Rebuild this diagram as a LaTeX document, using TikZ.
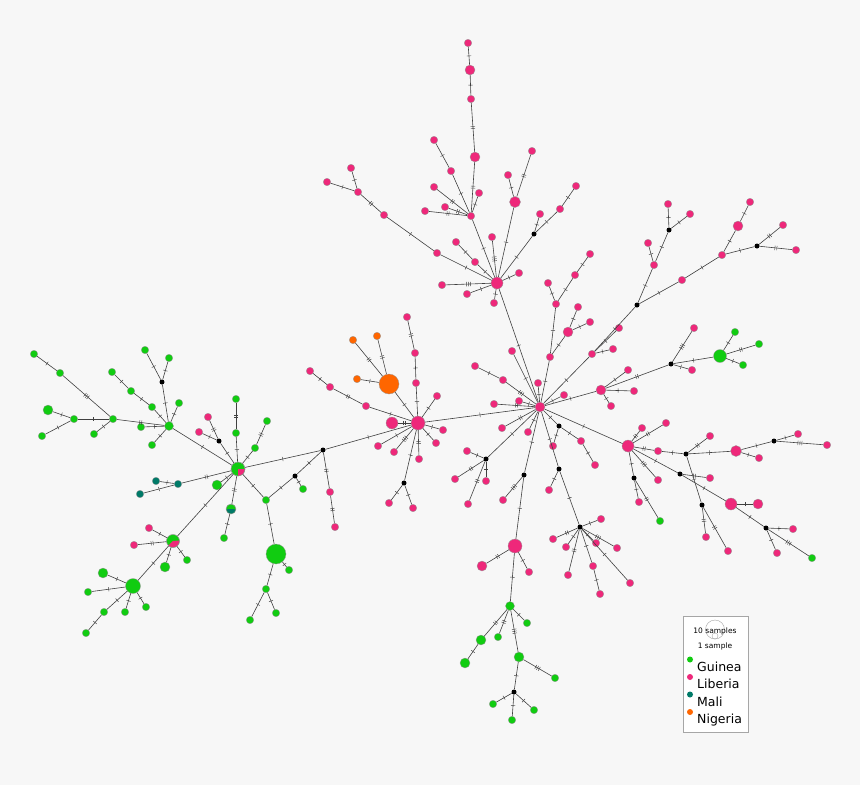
\documentclass[tikz,border=0pt]{standalone}
\usepackage{fontspec}
\newfontfamily\legfont{DejaVu Sans}
\usetikzlibrary{decorations.markings}
\definecolor{pinkc}{RGB}{238,40,122}
\definecolor{greenc}{RGB}{17,204,17}
\definecolor{tealc}{RGB}{0,122,104}
\definecolor{orangec}{RGB}{255,102,0}
\definecolor{bgc}{RGB}{247,247,247}
\begin{document}
\begin{tikzpicture}[x=1pt,y=-1pt,
  nd/.style={circle,inner sep=0pt,draw=black!40,line width=0.3pt},
  pk/.style={nd,fill=pinkc,minimum size=#1}, pk/.default=7.5pt,
  gn/.style={nd,fill=greenc,minimum size=#1}, gn/.default=7.5pt,
  tl/.style={nd,fill=tealc,minimum size=#1}, tl/.default=7.5pt,
  og/.style={nd,fill=orangec,minimum size=#1}, og/.default=7.5pt,
  bk/.style={circle,inner sep=0pt,fill=black,minimum size=5pt},
  lnk/.style={draw=black!75,line width=0.6pt,postaction={decorate},
    decoration={markings,mark=at position 0.5 with {\draw[line width=0.45pt] (0,-2.2pt) -- (0,2.2pt);}}},
  tk2/.style={decoration={markings,reset marks,mark=at position 0.5 with {\draw[line width=0.45pt] (-1pt,-2.2pt) -- (-1pt,2.2pt) (1pt,-2.2pt) -- (1pt,2.2pt);}}},
  tk3/.style={decoration={markings,reset marks,mark=at position 0.5 with {\draw[line width=0.45pt] (-2pt,-2.2pt) -- (-2pt,2.2pt) (0,-2.2pt) -- (0,2.2pt) (2pt,-2.2pt) -- (2pt,2.2pt);}}},
  every edge/.style={lnk},
  leg/.style={font=\legfont\fontsize{12.5}{14}\selectfont,anchor=base west,inner sep=0pt},
  legsmall/.style={font=\legfont\fontsize{7.5}{9}\selectfont,inner sep=0pt}]
\path[use as bounding box,fill=bgc] (0,0) rectangle (860,785);

\node[pk=12pt] (T) at (497,283) {};
\node[pk] (t1) at (468,43) {};
\node[pk=10pt] (t2) at (470,70) {};
\node[pk] (t3) at (471,99) {};
\node[pk=10pt] (t4) at (475,157) {};
\node[pk] (t5) at (471,216) {};
\node[pk] (t6) at (451,171) {};
\node[pk] (t7) at (434,140) {};
\node[pk] (t8) at (434,187) {};
\node[pk] (t9) at (445,207) {};
\node[pk] (t10) at (425,211) {};
\node[pk] (t11) at (479,193) {};
\node[pk=11pt] (t12) at (515,202) {};
\node[pk] (t13) at (508,175) {};
\node[pk] (t14) at (532,151) {};
\node[bk] (tb) at (534,234) {};
\node[pk] (t15) at (540,214) {};
\node[pk] (t16) at (560,209) {};
\node[pk] (t17) at (576,186) {};
\node[pk] (t18) at (437,253) {};
\node[pk] (t19) at (384,215) {};
\node[pk] (t20) at (358,192) {};
\node[pk] (t21) at (351,168) {};
\node[pk] (t22) at (327,182) {};
\node[pk] (t23) at (456,242) {};
\node[pk] (t24) at (475,262) {};
\node[pk] (t25) at (492,237) {};
\node[pk] (t26) at (519,273) {};
\node[pk] (t27) at (442,285) {};
\node[pk] (t28) at (467,294) {};
\node[pk] (t29) at (494,303) {};

\node[pk=10pt] (C) at (540,407) {};
\node[pk] (u1) at (550,357) {};
\node[pk] (u2) at (556,304) {};
\node[pk] (u3) at (548,283) {};
\node[pk] (u4) at (575,275) {};
\node[pk] (u5) at (590,254) {};
\node[pk=10pt] (u6) at (568,332) {};
\node[pk] (u7) at (578,307) {};
\node[pk] (u8) at (590,322) {};
\node[pk] (c1) at (512,351) {};
\node[pk] (c2) at (503,380) {};
\node[pk] (c3) at (475,366) {};
\node[pk] (c4) at (538,383) {};
\node[pk] (c5) at (494,404) {};
\node[pk] (c6) at (519,401) {};
\node[pk] (c7) at (502,428) {};
\node[pk] (c8) at (528,432) {};
\node[bk] (cb1) at (559,426) {};
\node[pk] (c9) at (553,446) {};
\node[pk] (c10) at (581,441) {};
\node[pk] (c11) at (595,465) {};
\node[bk] (cb2) at (559,469) {};
\node[pk] (c12) at (549,490) {};
\node[bk] (cb3) at (524,475) {};
\node[pk] (c13) at (503,500) {};
\node[bk] (cb4) at (486,459) {};
\node[pk] (c14) at (467,451) {};
\node[pk] (c15) at (455,479) {};
\node[pk] (c16) at (486,481) {};
\node[pk] (c17) at (468,504) {};
\node[pk] (c18) at (564,395) {};

\node[pk=14pt] (D) at (515,546) {};
\node[pk=10pt] (d1) at (482,566) {};
\node[pk] (d2) at (529,572) {};
\node[gn=9pt] (d3) at (510,606) {};
\node[gn] (d4) at (527,623) {};
\node[gn] (d5) at (498,637) {};
\node[gn=10pt] (d6) at (481,640) {};
\node[gn=10pt] (d7) at (465,663) {};
\node[gn=10pt] (d8) at (519,657) {};
\node[gn] (d9) at (555,678) {};
\node[bk] (db) at (514,692) {};
\node[gn] (d10) at (493,704) {};
\node[gn] (d11) at (534,710) {};
\node[gn] (d12) at (512,720) {};

\node[bk] (eb) at (580,527) {};
\node[pk] (e1) at (601,519) {};
\node[pk] (e2) at (553,539) {};
\node[pk] (e3) at (566,547) {};
\node[pk] (e4) at (596,543) {};
\node[pk] (e5) at (617,548) {};
\node[pk] (e6) at (593,566) {};
\node[pk] (e7) at (600,594) {};
\node[pk] (e8) at (568,575) {};
\node[pk] (e9) at (630,583) {};

\node[pk] (r1) at (592,354) {};
\node[pk] (r2) at (613,349) {};
\node[pk] (r3) at (619,328) {};
\node[bk] (rb1) at (637,305) {};
\node[pk] (r4) at (654,265) {};
\node[pk] (r5) at (648,243) {};
\node[bk] (rb2) at (669,230) {};
\node[pk] (r6) at (668,204) {};
\node[pk] (r7) at (690,214) {};
\node[pk] (r8) at (682,280) {};
\node[pk] (r9) at (722,255) {};
\node[pk=10pt] (r10) at (738,226) {};
\node[pk] (r11) at (750,202) {};
\node[bk] (rb3) at (757,246) {};
\node[pk] (r12) at (783,225) {};
\node[pk] (r13) at (796,250) {};

\node[pk=10pt] (Q) at (601,390) {};
\node[pk] (q1) at (628,370) {};
\node[pk] (q2) at (634,391) {};
\node[pk] (q3) at (611,406) {};
\node[bk] (qb) at (671,364) {};
\node[pk] (q4) at (694,328) {};
\node[pk] (q5) at (692,370) {};
\node[gn=13pt] (QG) at (720,356) {};
\node[gn] (q6) at (735,332) {};
\node[gn] (q7) at (759,344) {};
\node[gn] (q8) at (743,365) {};

\node[pk=12pt] (W) at (628,446) {};
\node[pk] (w1) at (642,428) {};
\node[pk] (w2) at (666,423) {};
\node[pk] (w3) at (658,451) {};
\node[pk] (w4) at (658,480) {};
\node[bk] (wb1) at (634,478) {};
\node[pk] (w5) at (639,502) {};
\node[gn] (w6) at (660,521) {};
\node[bk] (wb2) at (686,454) {};
\node[pk] (w7) at (710,436) {};
\node[pk=11pt] (w8) at (736,451) {};
\node[bk] (wb3) at (774,441) {};
\node[pk] (w9) at (798,434) {};
\node[pk] (w10) at (827,445) {};
\node[pk] (w11) at (759,458) {};
\node[bk] (wb4) at (702,505) {};
\node[pk] (w12) at (706,537) {};
\node[pk] (w13) at (728,551) {};
\node[bk] (wb5) at (680,474) {};
\node[pk] (w14) at (710,478) {};
\node[pk=12pt] (w15) at (731,504) {};
\node[pk=10pt] (w16) at (758,504) {};
\node[bk] (wb6) at (766,528) {};
\node[pk] (w17) at (793,529) {};
\node[pk] (w18) at (777,553) {};
\node[gn] (w19) at (812,558) {};

\node[pk=14pt] (L) at (418,423) {};
\node[pk=12pt] (l1) at (392,423) {};
\node[og=20pt] (O) at (389,384) {};
\node[og] (o1) at (353,340) {};
\node[og] (o2) at (377,336) {};
\node[og] (o3) at (357,379) {};
\node[pk] (l2) at (366,406) {};
\node[pk] (l3) at (330,387) {};
\node[pk] (l4) at (310,371) {};
\node[pk] (l5) at (416,383) {};
\node[pk] (l6) at (415,353) {};
\node[pk] (l7) at (407,317) {};
\node[pk] (l8) at (437,396) {};
\node[pk] (l9) at (443,430) {};
\node[pk] (l10) at (436,443) {};
\node[pk] (l11) at (419,459) {};
\node[pk] (l12) at (394,452) {};
\node[pk] (l13) at (378,446) {};
\node[bk] (lb) at (404,483) {};
\node[pk] (l14) at (389,503) {};
\node[pk] (l15) at (413,508) {};

\node[bk] (kb1) at (323,450) {};
\node[bk] (kb2) at (295,476) {};
\node[gn] (k1) at (303,489) {};
\node[gn] (k2) at (266,500) {};
\node[pk] (k3) at (330,492) {};
\node[pk] (k4) at (335,527) {};
\node[gn=20pt] (K) at (276,554) {};
\node[gn] (k5) at (289,570) {};
\node[gn] (k6) at (266,589) {};
\node[gn] (k7) at (250,620) {};
\node[gn] (k8) at (276,613) {};

\node[gn=14pt] (G) at (238,469) {};
\node[gn] (g1) at (236,433) {};
\node[gn] (g2) at (236,399) {};
\node[gn] (g3) at (255,448) {};
\node[gn] (g4) at (267,421) {};
\node[bk] (gb) at (219,441) {};
\node[pk] (g5) at (208,417) {};
\node[pk] (g6) at (199,432) {};
\node[gn=10pt] (g7) at (217,485) {};
\node[gn=10pt] (g8) at (231,509) {};
\node[gn] (g9) at (224,538) {};
\node[tl] (gt1) at (178,484) {};
\node[tl] (gt2) at (156,481) {};
\node[tl] (gt3) at (140,494) {};

\node[gn=9pt] (H) at (169,426) {};
\node[gn] (h1) at (141,427) {};
\node[gn] (h2) at (113,419) {};
\node[gn] (h3) at (74,419) {};
\node[gn=10pt] (h4) at (48,410) {};
\node[gn] (h5) at (42,436) {};
\node[gn] (h6) at (94,434) {};
\node[gn] (h7) at (60,373) {};
\node[gn] (h8) at (34,354) {};
\node[gn] (h9) at (152,445) {};
\node[gn] (h10) at (152,407) {};
\node[gn] (h11) at (131,391) {};
\node[gn] (h12) at (112,372) {};
\node[bk] (hb) at (162,382) {};
\node[gn] (h13) at (145,350) {};
\node[gn] (h14) at (169,358) {};
\node[gn] (h15) at (179,403) {};

\node[gn=13pt] (P) at (173,541) {};
\node[pk] (p1) at (149,528) {};
\node[pk] (p2) at (134,545) {};
\node[gn=10pt] (p3) at (165,567) {};
\node[gn] (p4) at (187,560) {};
\node[gn=15pt] (B) at (133,586) {};
\node[gn=10pt] (b1) at (103,573) {};
\node[gn] (b2) at (88,592) {};
\node[gn] (b3) at (104,612) {};
\node[gn] (b4) at (86,633) {};
\node[gn] (b5) at (125,612) {};
\node[gn] (b6) at (146,607) {};

\fill[pinkc] (G.center) -- ++(-90:6.8pt) arc[start angle=-90,end angle=0,radius=6.8pt] -- cycle;
\draw[black!40,line width=0.3pt] (G.center) circle[radius=7pt];
\fill[pinkc] (P.center) -- ++(-137:6.3pt) arc[start angle=-137,end angle=5,radius=6.3pt] -- cycle;
\draw[black!40,line width=0.3pt] (P.center) circle[radius=6.5pt];
\fill[tealc] (g8.center) -- ++(185:4.8pt) arc[start angle=185,end angle=355,radius=4.8pt] -- cycle;
\draw[black!40,line width=0.3pt] (g8.center) circle[radius=5pt];

\path (T) edge (t5) edge (t12) edge (tb) edge (t18) edge (t24) edge[tk3] (t25) edge (t26) edge[tk3] (t27) edge (t28) edge (t29) edge (C);
\path (t5) edge[tk2] (t4) edge (t6) edge[tk2] (t8) edge[tk2] (t9) edge[tk2] (t10) edge (t11);
\path (t4) edge[tk2] (t3);
\path (t3) edge (t2);
\path (t2) edge (t1);
\path (t6) edge (t7);
\path (t12) edge (t13) edge[tk2] (t14);
\path (tb) edge (t15) edge (t16);
\path (t16) edge (t17);
\path (t18) edge (t19);
\path (t19) edge[tk2] (t20);
\path (t20) edge (t21) edge (t22);
\path (t24) edge (t23);

\path (C) edge (u1) edge (c1) edge[tk3] (c2) edge (c4) edge[tk2] (c5) edge (c6) edge[tk2] (c7) edge (c8) edge (cb1) edge (cb2) edge (cb3) edge (cb4) edge (c18) edge (r1) edge (Q) edge (W) edge (L);
\path (u1) edge (u2) edge (u6);
\path (u2) edge (u3) edge (u4);
\path (u4) edge (u5);
\path (u6) edge (u7) edge (u8);
\path (c2) edge (c3);
\path (cb1) edge (c9) edge (c10);
\path (c10) edge (c11);
\path (cb2) edge (c12) edge (eb);
\path (cb3) edge[tk3] (c13) edge (D);
\path (cb4) edge (c14) edge[tk2] (c15) edge (c16) edge[tk2] (c17);

\path (D) edge[tk2] (d1) edge (d2) edge (d3);
\path (d3) edge (d4) edge[tk2] (d5) edge[tk2] (d6) edge[tk3] (d8);
\path (d6) edge (d7);
\path (d8) edge[tk3] (d9) edge (db);
\path (db) edge (d10) edge (d11) edge (d12);

\path (eb) edge (e1) edge[tk2] (e2) edge (e3) edge (e4) edge[tk3] (e5) edge (e6) edge[tk2] (e8) edge (e9);
\path (e6) edge (e7);

\path (r1) edge (r2) edge (r3) edge (rb1);
\path (rb1) edge (r4) edge (r8);
\path (r4) edge (r5) edge (rb2);
\path (rb2) edge (r6) edge (r7);
\path (r8) edge (r9);
\path (r9) edge (r10) edge (rb3);
\path (r10) edge (r11);
\path (rb3) edge[tk2] (r12) edge[tk2] (r13);

\path (Q) edge (q1) edge (q2) edge (q3) edge[tk2] (qb);
\path (qb) edge[tk3] (q4) edge (q5) edge (QG);
\path (QG) edge (q6) edge[tk2] (q7) edge (q8);

\path (W) edge[tk2] (w1) edge[tk2] (w2) edge[tk2] (w3) edge[tk3] (w4) edge (wb1) edge (wb5);
\path (wb1) edge (w5) edge[tk2] (w6);
\path (w3) edge (wb2);
\path (wb2) edge[tk2] (w7) edge (w8) edge (wb4);
\path (w8) edge (wb3) edge (w11);
\path (wb3) edge (w9) edge[tk3] (w10);
\path (wb4) edge[tk2] (w12) edge[tk2] (w13);
\path (wb5) edge[tk2] (w14) edge (w15);
\path (w15) edge (w16) edge (wb6);
\path (wb6) edge (w17) edge (w18) edge[tk3] (w19);

\path (L) edge[tk2] (l1) edge (O) edge (l2) edge (l5) edge (l8) edge (l9) edge (l10) edge[tk2] (l11) edge[tk3] (l12) edge (l13) edge (lb) edge (kb1);
\path (O) edge[tk2] (o1) edge[tk2] (o2) edge (o3);
\path (l2) edge[tk2] (l3);
\path (l3) edge (l4);
\path (l5) edge (l6);
\path (l6) edge[tk2] (l7);
\path (lb) edge (l14) edge (l15);

\path (kb1) edge (G) edge (kb2) edge[tk2] (k3);
\path (kb2) edge (k1) edge (k2);
\path (k3) edge[tk2] (k4);
\path (k2) edge (G) edge (K);
\path (K) edge (k5) edge (k6);
\path (k6) edge (k7) edge (k8);

\path (G) edge (g1) edge (g3) edge (gb) edge (g7) edge[tk2] (g8) edge[tk2] (gt1) edge (H) edge (P);
\path (g1) edge[tk2] (g2);
\path (g3) edge[tk2] (g4);
\path (gb) edge[tk2] (g5) edge (g6);
\path (g8) edge (g9);
\path (gt1) edge (gt2) edge (gt3);

\path (H) edge (h1) edge[tk2] (h2) edge (h9) edge (h10) edge (hb) edge (h15);
\path (h2) edge (h3) edge (h6) edge[tk3] (h7);
\path (h3) edge (h4) edge (h5);
\path (h7) edge (h8);
\path (h10) edge (h11);
\path (h11) edge (h12);
\path (hb) edge (h13) edge (h14);

\path (P) edge (p1) edge[tk2] (p2) edge (p3) edge (p4) edge (B);
\path (B) edge (b1) edge (b2) edge (b3) edge (b5) edge (b6);
\path (b3) edge (b4);

\node[draw=black!35,fill=white,minimum width=65pt,minimum height=116pt,inner sep=0pt] (legbox) at (715.5,674) {};
\node[circle,draw=black!35,minimum size=19pt,inner sep=0pt] (tenring) at (715,629.5) {};
\node[circle,draw=black!35,minimum size=6pt,inner sep=0pt] (onering) at (715,636) {};
\node[legsmall] (tentxt) at (715,631) {10 samples};
\node[legsmall] (onetxt) at (715,646) {1 sample};
\node[gn=6pt,draw=none] (kg) at (690,659.5) {};
\node[pk=6pt,draw=none] (kp) at (690,677) {};
\node[tl=6pt,draw=none] (kt) at (690,694.5) {};
\node[og=6pt,draw=none] (ko) at (690,712) {};
\node[leg] (lg) at (697,671) {Guinea};
\node[leg] (lp) at (697,688.5) {Liberia};
\node[leg] (lt) at (697,706) {Mali};
\node[leg] (lo) at (697,723.5) {Nigeria};
\end{tikzpicture}
\end{document}
